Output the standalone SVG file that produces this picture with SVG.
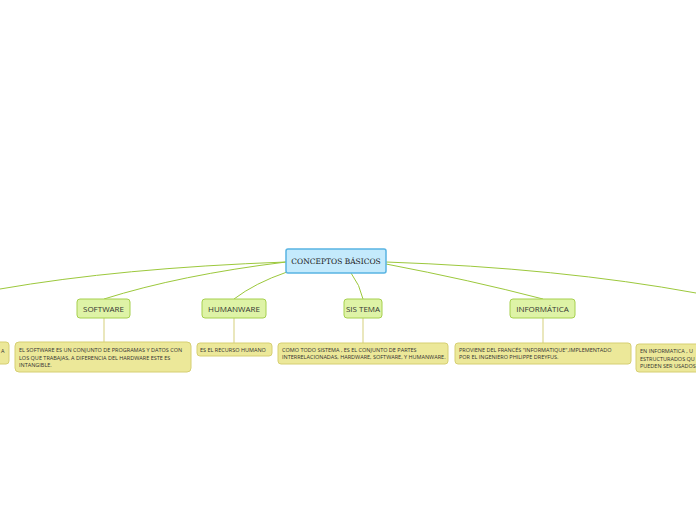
<svg xmlns="http://www.w3.org/2000/svg" width="696" height="520" viewBox="0 0 696 520">
<style>
.c{fill:none;stroke:#9cc83c;stroke-width:1}
.v{fill:none;stroke:#e4e0a8;stroke-width:1.5}
.n rect{fill:#def3a6;stroke:#a6d04e;stroke-width:1}
.n text{font-family:"Open Sans",sans-serif;font-size:8px;fill:#333;text-anchor:middle}
.t rect{fill:#ece899;stroke:#d6cf72;stroke-width:1}
.t text{font-family:"Open Sans",sans-serif;font-size:5.5px;fill:#333}
</style>
<rect width="696" height="520" fill="#fff"/>
<g id="connectors">
<path class="c" d="M286,262 Q120,268 0,289"/>
<path class="c" d="M286,262 Q180,275 104,299"/>
<path class="c" d="M287,272 Q255,283 234,299"/>
<path class="c" d="M351,273 Q360,285 363,299"/>
<path class="c" d="M386,264 Q470,280 543,299"/>
<path class="c" d="M386,262 Q560,268 696,293"/>
<path class="v" d="M104,318V342M234,318V343M363,318V343M543,318V343"/>
</g>
<g id="root"><rect x="286" y="249" width="100" height="24" rx="2" fill="#c4eafc" stroke="#58b4e2" stroke-width="1.5"/><text x="336" y="264" font-family="'DejaVu Serif',serif" font-size="7.5" text-anchor="middle" fill="#222">CONCEPTOS BÁSICOS</text></g>
<g id="software" class="n"><rect x="77" y="299" width="53" height="19" rx="3"/><text x="103.5" y="311.5">SOFTWARE</text></g>
<g id="humanware" class="n"><rect x="202" y="299" width="64" height="19" rx="3"/><text x="234" y="311.5">HUMANWARE</text></g>
<g id="sistema" class="n"><rect x="344" y="299" width="38" height="19" rx="3"/><text x="363" y="311.5" font-size="6.5">SIS TEMA</text></g>
<g id="informatica" class="n"><rect x="510" y="299" width="65" height="19" rx="3"/><text x="542.5" y="311.5">INFORMÁTICA</text></g>
<g id="note-left" class="t"><rect x="-20" y="342" width="29" height="22" rx="3"/><text x="1" y="353">A</text></g>
<g id="note-software" class="t"><rect x="15" y="342" width="176" height="30" rx="4"/><text x="19" y="352">EL SOFTWARE ES UN CONJUNTO DE PROGRAMAS Y DATOS CON</text><text x="19" y="359.5">LOS QUE TRABAJAS, A DIFERENCIA DEL HARDWARE ESTE ES</text><text x="19" y="367">INTANGIBLE.</text></g>
<g id="note-humanware" class="t"><rect x="197" y="343" width="75" height="13" rx="3"/><text x="200" y="352">ES EL RECURSO HUMANO</text></g>
<g id="note-sistema" class="t"><rect x="278" y="343" width="170" height="21" rx="3"/><text x="282" y="351.5">COMO TODO SISTEMA , ES EL CONJUNTO DE PARTES</text><text x="282" y="359">INTERRELACIONADAS, HARDWARE, SOFTWARE, Y HUMANWARE.</text></g>
<g id="note-informatica" class="t"><rect x="455" y="343" width="176" height="21" rx="3"/><text x="459" y="351.5">PROVIENE DEL FRANCÉS "INFORMATIQUE",IMPLEMENTADO</text><text x="459" y="359">POR EL INGENIERO PHILIPPE DREYFUS.</text></g>
<g id="note-right" class="t"><rect x="636" y="344" width="80" height="28" rx="3"/><text x="640" y="353">EN INFORMATICA , U</text><text x="640" y="360.5">ESTRUCTURADOS QU</text><text x="640" y="368">PUEDEN SER USADOS</text></g>
</svg>
